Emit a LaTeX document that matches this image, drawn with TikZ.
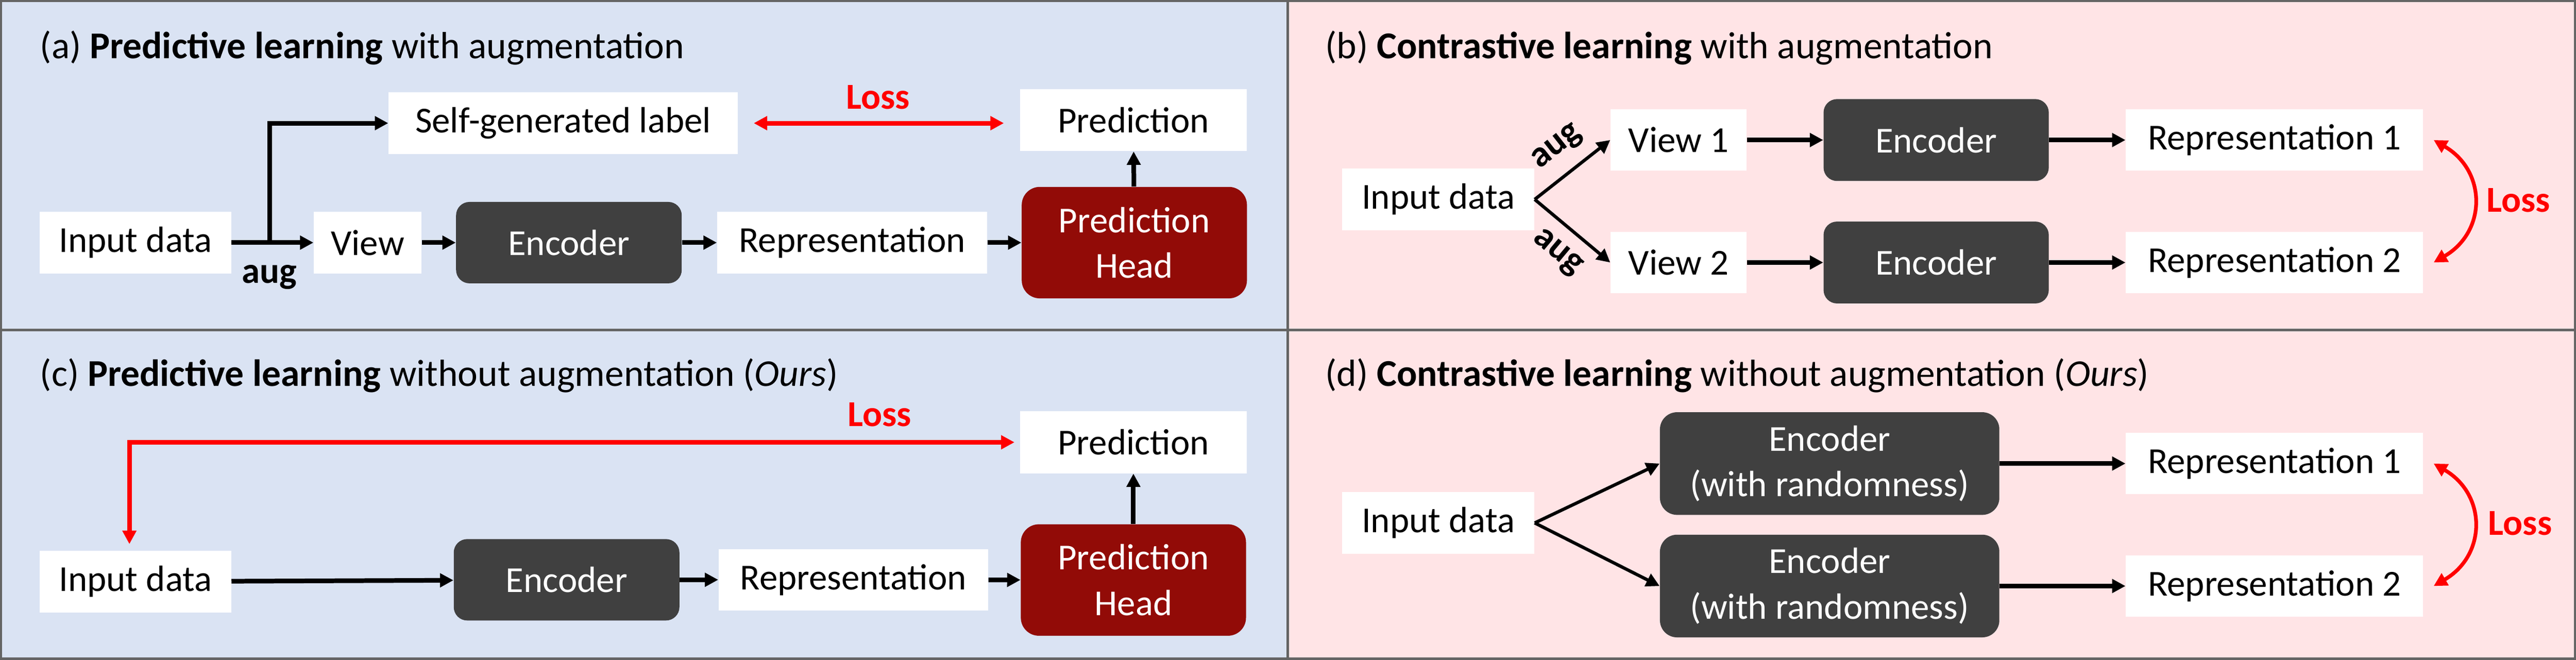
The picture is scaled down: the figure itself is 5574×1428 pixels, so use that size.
\documentclass[tikz,border=0pt]{standalone}
\usepackage{fontspec}
\setmainfont{Carlito}
\usetikzlibrary{arrows.meta}
\definecolor{panelblue}{RGB}{218,227,243}
\definecolor{panelpink}{RGB}{255,228,230}
\definecolor{framegray}{RGB}{100,100,100}
\definecolor{encgray}{RGB}{64,64,64}
\definecolor{headred}{RGB}{146,11,7}
\begin{document}
\begin{tikzpicture}[x=0.01cm, y=-0.01cm,
    >={Triangle[length=2.9mm, width=2.9mm]},
    box/.style={fill=white, inner sep=0pt, minimum height=1.33cm, font=\fontsize{22.5}{28}\selectfont},
    enc/.style={fill=encgray, text=white, inner sep=0pt, align=center, rounded corners=0.29cm,
      minimum width=4.88cm, minimum height=1.76cm, font=\fontsize{22.5}{28}\selectfont},
    head/.style={enc, fill=headred, rounded corners=0.39cm, minimum width=4.87cm, minimum height=2.41cm},
    flow/.style={->, line width=2.85pt},
    thinflow/.style={->, line width=2pt},
    lossflow/.style={<->, red, line width=2.85pt},
    lossarc/.style={<->, red, line width=2.3pt},
    losstext/.style={red, inner sep=0pt, font=\bfseries\fontsize{22.5}{28}\selectfont},
    augtext/.style={inner sep=0.28cm, font=\bfseries\fontsize{22.5}{28}\selectfont},
    title/.style={anchor=base west, inner sep=0pt, font=\fontsize{23.3}{28}\selectfont}]
  \useasboundingbox (0,0) rectangle (5574,1428);
  \fill[panelblue] (0,0) rectangle (2787,1428);
  \fill[panelpink] (2787,0) rectangle (5574,1428);
  \draw[framegray, line width=1.42pt] (2.5,2.5) rectangle (5571.5,1425.5);
  \draw[framegray, line width=1.42pt] (2786.5,0) -- (2786.5,1428) (0,714) -- (5574,714);

  \node[title] (titleA) at (86,127) {(a) \textbf{Predictive learning} with augmentation};
  \node[title] (titleB) at (2867,127) {(b) \textbf{Contrastive learning} with augmentation};
  \node[title] (titleC) at (86,836) {(c) \textbf{Predictive learning} without augmentation (\textit{Ours})};
  \node[title] (titleD) at (2867,836) {(d) \textbf{Contrastive learning} without augmentation (\textit{Ours})};

  % (a)
  \node[box, minimum width=4.14cm] (inA) at (293,525) {Input data};
  \node[box, minimum width=2.33cm] (viewA) at (795.5,525) {View};
  \node[enc] (encA) at (1231,525) {Encoder};
  \node[box, minimum width=5.84cm] (repA) at (1844,525) {Representation};
  \node[head] (headA) at (2454.5,525) {Prediction\\Head};
  \node[box, minimum width=4.91cm, minimum height=1.34cm] (predA) at (2452.5,260) {Prediction};
  \node[box, minimum width=7.55cm] (labelA) at (1218.5,266.5) {Self-generated label};
  \node[losstext] (lossA) at (1900,210) {Loss};
  \node[augtext, inner sep=0pt] (augA) at (583,600) {aug};
  \coordinate (splitA) at (584,525);
  \draw[flow] (inA) -- (viewA);
  \draw[flow] (splitA) |- (labelA.west);
  \draw[flow] (viewA) -- (encA);
  \draw[flow] (encA) -- (repA);
  \draw[flow] (repA) -- (headA);
  \draw[flow] (headA) -- (predA);
  \draw[lossflow, shorten <=0.34cm, shorten >=0.34cm] (labelA.east) -- (labelA.east -| predA.west);

  % (c)
  \node[box, minimum width=4.14cm] (inC) at (293,1258.5) {Input data};
  \node[enc] (encC) at (1226,1254.5) {Encoder};
  \node[box, minimum width=5.83cm] (repC) at (1846.5,1254.5) {Representation};
  \node[head] (headC) at (2452.5,1255) {Prediction\\Head};
  \node[box, minimum width=4.91cm, minimum height=1.34cm] (predC) at (2452.5,957) {Prediction};
  \node[losstext] (lossC) at (1903,897) {Loss};
  \coordinate (turnC) at (280,957);
  \draw[flow] (inC) -- (encC);
  \draw[flow] (encC) -- (repC);
  \draw[flow] (repC) -- (headC);
  \draw[flow] (headC) -- (predC);
  \draw[lossflow, shorten <=0.14cm, shorten >=0.11cm] (turnC |- inC.north) -- (turnC) -- (predC.west);

  % (b)
  \node[box, minimum width=4.16cm] (inB) at (3112,431.5) {Input data};
  \foreach \i/\y/\anc in {1/303/south, 2/568/north} {
    \node[box, minimum width=2.94cm] (viewB\i) at (3632,\y) {View \i};
    \node[enc, minimum width=4.87cm, minimum height=1.77cm] (encB\i) at (4189.5,\y) {Encoder};
    \node[box, minimum width=6.43cm] (repB\i) at (4921.5,\y) {Representation \i};
    \draw[thinflow] (inB.east) -- (viewB\i.west) node[augtext, pos=0.52, sloped, anchor=\anc] (augB\i) {aug};
    \draw[flow] (viewB\i) -- (encB\i);
    \draw[flow] (encB\i) -- (repB\i);
  }
  \node[losstext] (lossB) at (5449,433) {Loss};

  % (d)
  \node[box, minimum width=4.16cm] (inD) at (3112,1131.5) {Input data};
  \foreach \i/\y in {1/1003, 2/1268} {
    \node[enc, minimum width=7.34cm, minimum height=2.22cm, rounded corners=0.37cm] (encD\i) at (3959,\y) {Encoder\\(with randomness)};
    \node[box, minimum width=6.43cm] (repD\i) at (4921.5,\y) {Representation \i};
    \draw[thinflow] (inD.east) -- (encD\i.west);
    \draw[flow] (encD\i) -- (repD\i);
  }
  \node[losstext] (lossD) at (5453,1132) {Loss};

  \foreach \p/\q in {repB1/repB2, repD1/repD2}
    \draw[lossarc] ([xshift=0.22cm]\p.east) .. controls +(115,67) and +(115,-67) .. ([xshift=0.22cm]\q.east);
\end{tikzpicture}
\end{document}
